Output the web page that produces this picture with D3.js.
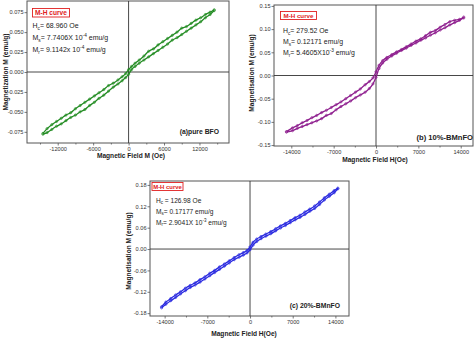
<!DOCTYPE html>
<html>
<head>
<meta charset="utf-8">
<script src="https://cdn.jsdelivr.net/npm/d3@7"></script>
<style>
  html, body { margin: 0; padding: 0; background: #fff; }
  svg { display: block; font-family: "Liberation Sans", Arial, sans-serif; }
</style>
</head>
<body>
<svg id="chart" width="474" height="338"></svg>
<script>
// Field grid (Oe), swept from +H down to -H
const fieldA = [14500, 13800, 13000, 12200, 11400, 10600, 9800, 9000, 8200, 7400, 6600, 5800, 5000, 4200, 3400, 2600, 1800, 1100, 500, 0, -500, -1100, -1800, -2600, -3400, -4200, -5000, -5800, -6600, -7400, -8200, -9000, -9800, -10600, -11400, -12200, -13000, -13800, -14500];
const fieldB = [14500, 13800, 13000, 12200, 11400, 10600, 9800, 9000, 8200, 7400, 6600, 5800, 5000, 4200, 3400, 2600, 1800, 1100, 500, 0, -500, -1100, -1800, -2600, -3400, -4200, -5000, -5800, -6600, -7400, -8200, -9000, -9800, -10600, -11400, -12200, -13000, -13800, -14800];
const fieldC = [14400, 13800, 13000, 12200, 11400, 10600, 9800, 9000, 8200, 7400, 6600, 5800, 5000, 4200, 3400, 2600, 1800, 1100, 500, 0, -500, -1100, -1800, -2600, -3400, -4200, -5000, -5800, -6600, -7400, -8200, -9000, -9800, -10600, -11400, -12200, -13000, -13800, -14500];

// (a) pure BFO: magnetization (emu/g), descending and ascending branches
const bfoDown = [0.078, 0.075, 0.072, 0.068, 0.065, 0.061, 0.057, 0.055, 0.050, 0.046, 0.042, 0.038, 0.034, 0.029, 0.026, 0.020, 0.015, 0.011, 0.007, 0.003, -0.002, -0.006, -0.010, -0.014, -0.017, -0.022, -0.026, -0.030, -0.034, -0.038, -0.042, -0.046, -0.051, -0.054, -0.058, -0.062, -0.066, -0.071, -0.077];
const bfoUp = [0.077, 0.072, 0.068, 0.063, 0.059, 0.055, 0.051, 0.047, 0.043, 0.040, 0.035, 0.031, 0.027, 0.023, 0.019, 0.015, 0.011, 0.007, 0.003, -0.003, -0.007, -0.011, -0.015, -0.019, -0.024, -0.029, -0.033, -0.038, -0.042, -0.047, -0.050, -0.054, -0.057, -0.061, -0.065, -0.068, -0.072, -0.076, -0.078];

// (b) 10%-BMnFO
const mn10Down = [0.126, 0.121, 0.119, 0.116, 0.110, 0.104, 0.097, 0.093, 0.086, 0.079, 0.074, 0.068, 0.062, 0.056, 0.051, 0.045, 0.039, 0.032, 0.022, 0.008, -0.005, -0.013, -0.020, -0.029, -0.036, -0.043, -0.050, -0.057, -0.063, -0.069, -0.075, -0.080, -0.086, -0.091, -0.097, -0.102, -0.108, -0.113, -0.121];
const mn10Up = [0.124, 0.119, 0.114, 0.109, 0.103, 0.098, 0.092, 0.087, 0.081, 0.076, 0.070, 0.065, 0.059, 0.054, 0.048, 0.042, 0.035, 0.027, 0.015, -0.004, -0.018, -0.028, -0.036, -0.042, -0.048, -0.055, -0.061, -0.067, -0.074, -0.082, -0.086, -0.093, -0.098, -0.102, -0.106, -0.110, -0.114, -0.119, -0.122];

// (c) 20%-BMnFO
const mn20Down = [0.171, 0.164, 0.154, 0.144, 0.132, 0.121, 0.112, 0.104, 0.095, 0.088, 0.080, 0.072, 0.065, 0.057, 0.049, 0.042, 0.035, 0.028, 0.019, 0.006, -0.004, -0.010, -0.016, -0.024, -0.033, -0.042, -0.050, -0.060, -0.068, -0.078, -0.086, -0.095, -0.102, -0.110, -0.120, -0.129, -0.139, -0.149, -0.162];
const mn20Up = [0.169, 0.158, 0.148, 0.138, 0.125, 0.114, 0.106, 0.097, 0.089, 0.082, 0.074, 0.066, 0.059, 0.051, 0.043, 0.036, 0.029, 0.021, 0.011, -0.002, -0.011, -0.017, -0.023, -0.030, -0.039, -0.048, -0.057, -0.066, -0.075, -0.084, -0.093, -0.101, -0.108, -0.117, -0.126, -0.136, -0.145, -0.155, -0.165];

// Tick values
const ticksHA = [-12000, -6000, 0, 6000, 12000];
const minorHA = [-15000, -9000, -3000, 3000, 9000, 15000];
const ticksMA = [-0.075, -0.05, -0.025, 0, 0.025, 0.05, 0.075];
const ticksHB = [-14000, -7000, 0, 7000, 14000];
const minorHB = [-10500, -3500, 3500, 10500];
const ticksMB = [-0.15, -0.10, -0.05, 0, 0.05, 0.10, 0.15];
const ticksMC = [-0.18, -0.12, -0.06, 0, 0.06, 0.12, 0.18];

const svg = d3.select("#chart");

function richText(g, x, y, size, parts, opts = {}) {
  const t = g.append("text").attr("x", x).attr("y", y)
    .attr("font-size", size).attr("fill", opts.fill || "#222")
    .attr("font-weight", opts.weight || "normal");
  let shift = 0;
  parts.forEach(([s, kind]) => {
    const target = kind === "sub" ? size * 0.3 : kind === "sup" ? -size * 0.38 : 0;
    const ts = t.append("tspan").attr("dy", target - shift).text(s);
    if (kind) ts.attr("font-size", size * 0.68);
    shift = target;
  });
  return t;
}

function panel(cfg) {
  const g = svg.append("g");
  const x = d3.scaleLinear().domain(cfg.xDomain).range([cfg.x0, cfg.x1]);
  const y = d3.scaleLinear().domain(cfg.yDomain).range([cfg.y1, cfg.y0]);

  // axes with outward ticks
  const xAxis = g.append("g").attr("transform", `translate(0,${cfg.y1})`)
    .call(d3.axisBottom(x).tickValues(cfg.xTicks).tickSize(2.5).tickPadding(1.5).tickFormat(d => String(d)));
  const xMinor = g.append("g").attr("transform", `translate(0,${cfg.y1})`)
    .call(d3.axisBottom(x).tickValues(cfg.xMinor.filter(v => v > cfg.xDomain[0] && v < cfg.xDomain[1])).tickSize(1.5).tickFormat(""));
  const yAxis = g.append("g").attr("transform", `translate(${cfg.x0},0)`)
    .call(d3.axisLeft(y).tickValues(cfg.yTicks).tickSize(2.5).tickPadding(1).tickFormat(d => d.toFixed(cfg.yDigits)));
  [xAxis, xMinor, yAxis].forEach(a => {
    a.select(".domain").remove();
    a.selectAll("line").attr("stroke", "#555").attr("stroke-width", 0.8);
    a.selectAll("text").attr("font-size", cfg.tickSize).attr("fill", "#333")
      .attr("font-family", "Liberation Sans, Arial, sans-serif");
  });

  // frame
  g.append("rect").attr("x", cfg.x0).attr("y", cfg.y0)
    .attr("width", cfg.x1 - cfg.x0).attr("height", cfg.y1 - cfg.y0)
    .attr("fill", "none").attr("stroke", "#555").attr("stroke-width", 1);
  // zero lines
  g.append("line").attr("x1", cfg.x0).attr("x2", cfg.x1).attr("y1", y(0)).attr("y2", y(0))
    .attr("stroke", "#333").attr("stroke-width", 0.9);
  g.append("line").attr("x1", x(0)).attr("x2", x(0)).attr("y1", cfg.y0).attr("y2", cfg.y1)
    .attr("stroke", "#333").attr("stroke-width", 0.9);

  // hysteresis loop: descending branch, then ascending branch
  const down = cfg.field.map((h, i) => [h, cfg.down[i]]);
  const up = cfg.field.map((h, i) => [h, cfg.up[i]]).reverse();
  const line = d3.line().x(d => x(d[0])).y(d => y(d[1])).curve(d3.curveCatmullRom);
  [down, up].forEach(branch => {
    g.append("path").attr("d", line(branch)).attr("fill", "none")
      .attr("stroke", cfg.color).attr("stroke-width", 1.3).attr("stroke-linejoin", "round");
    g.selectAll(null).data(branch).enter().append("circle")
      .attr("cx", d => x(d[0])).attr("cy", d => y(d[1])).attr("r", 1.1)
      .attr("fill", "none").attr("stroke", cfg.color).attr("stroke-width", 0.7);
  });

  // axis titles
  g.append("text").attr("x", cfg.xTitleX).attr("y", cfg.xTitleY).attr("text-anchor", "middle")
    .attr("font-size", 6.6).attr("font-weight", "bold").attr("fill", "#222").text(cfg.xTitle);
  g.append("text").attr("transform", `translate(${cfg.yTitleX},${cfg.yTitleY}) rotate(-90)`)
    .attr("text-anchor", "middle").attr("font-size", 6.6).attr("font-weight", "bold")
    .attr("fill", "#222").text(cfg.yTitle);

  // "M-H curve" tag
  const b = cfg.tag;
  g.append("rect").attr("x", b.x).attr("y", b.y).attr("width", b.w).attr("height", b.h)
    .attr("fill", "#fff").attr("stroke", "#e02020").attr("stroke-width", 0.9);
  g.append("text").attr("x", b.x + b.w / 2).attr("y", b.y + b.h - 2).attr("text-anchor", "middle")
    .attr("font-size", b.size).attr("font-weight", "bold").attr("fill", "#e02020").text("M-H curve");

  // parameters
  cfg.params.forEach((parts, i) => {
    richText(g, cfg.paramX, cfg.paramY + i * cfg.paramStep, cfg.paramSize, parts);
  });

  // sample label
  g.append("text").attr("x", cfg.nameX).attr("y", cfg.nameY).attr("text-anchor", "end")
    .attr("font-size", cfg.nameSize).attr("font-weight", "bold").attr("fill", "#222").text(cfg.name);
}

panel({
  x0: 27, x1: 229, y0: 1, y1: 143,
  xDomain: [-17200, 17000], yDomain: [-0.089, 0.089],
  xTicks: ticksHA, xMinor: minorHA, yTicks: ticksMA, yDigits: 3, tickSize: 5.6,
  field: fieldA, down: bfoDown, up: bfoUp, color: "#238c23",
  xTitle: "Magnetic Field M (Oe)", xTitleX: 131, xTitleY: 158,
  yTitle: "Magnetization M (emu/g)", yTitleX: 8, yTitleY: 72,
  tag: { x: 32.5, y: 8.5, w: 37, h: 8.5, size: 6.6 },
  params: [
    [["H", ""], ["c", "sub"], ["= 68.960 Oe", ""]],
    [["M", ""], ["s", "sub"], ["= 7.7406X 10", ""], ["-4", "sup"], [" emu/g", ""]],
    [["M", ""], ["r", "sub"], ["= 9.1142x 10", ""], ["-4", "sup"], [" emu/g", ""]]
  ],
  paramX: 32.5, paramY: 28, paramStep: 12, paramSize: 7,
  name: "(a)pure BFO", nameX: 219, nameY: 134, nameSize: 6.8
});

panel({
  x0: 274, x1: 473, y0: 5, y1: 146,
  xDomain: [-16860, 16030], yDomain: [-0.152, 0.152],
  xTicks: ticksHB, xMinor: minorHB, yTicks: ticksMB, yDigits: 2, tickSize: 5.6,
  field: fieldB, down: mn10Down, up: mn10Up, color: "#8e1e8e",
  xTitle: "Magnetic Field H(Oe)", xTitleX: 375, xTitleY: 162,
  yTitle: "Magnetisation M (emu/g)", yTitleX: 254, yTitleY: 73,
  tag: { x: 280.5, y: 11.5, w: 36, h: 8, size: 6.2 },
  params: [
    [["H", ""], ["c", "sub"], ["= 279.52 Oe", ""]],
    [["M", ""], ["s", "sub"], ["= 0.12171 emu/g", ""]],
    [["M", ""], ["r", "sub"], ["= 5.4605X10", ""], ["-3", "sup"], [" emu/g", ""]]
  ],
  paramX: 283, paramY: 33, paramStep: 11, paramSize: 6.9,
  name: "(b) 10%-BMnFO", nameX: 473, nameY: 140, nameSize: 7.6
});

panel({
  x0: 150, x1: 349, y0: 181, y1: 316,
  xDomain: [-16400, 16230], yDomain: [-0.188, 0.191],
  xTicks: ticksHB, xMinor: minorHB, yTicks: ticksMC, yDigits: 2, tickSize: 5.6,
  field: fieldC, down: mn20Down, up: mn20Up, color: "#2a2ae0",
  xTitle: "Magnetic Field H(Oe)", xTitleX: 244, xTitleY: 336,
  yTitle: "Magnetisation M (emu/g)", yTitleX: 131, yTitleY: 251,
  tag: { x: 152, y: 182.5, w: 31, h: 8, size: 5.9 },
  params: [
    [["H", ""], ["c", "sub"], [" = 126.98 Oe", ""]],
    [["M", ""], ["s", "sub"], ["= 0.17177 emu/g", ""]],
    [["M", ""], ["r", "sub"], ["= 2.9041X 10", ""], ["-3", "sup"], [" emu/g", ""]]
  ],
  paramX: 156, paramY: 202.5, paramStep: 11, paramSize: 6.6,
  name: "(c) 20%-BMnFO", nameX: 340, nameY: 308, nameSize: 6.8
});
</script>
</body>
</html>
